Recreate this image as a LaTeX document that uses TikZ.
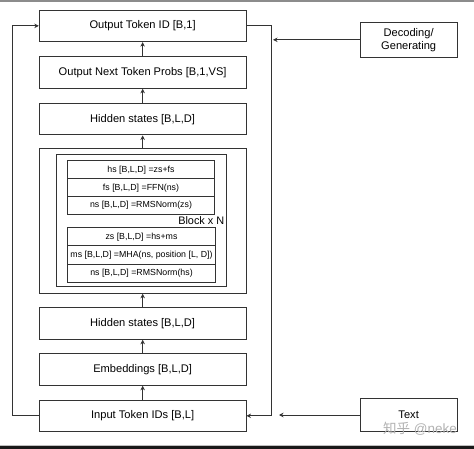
\documentclass[tikz,border=0pt]{standalone}
\usepackage{fontspec}
\setmainfont{Liberation Sans}
\newfontfamily\cjkfont{Noto Sans CJK SC}
\usetikzlibrary{arrows.meta}
\begin{document}
\begin{tikzpicture}[x=1pt,y=-1pt,
  ln/.style={draw=black!80,line width=1pt},
  bigbox/.style={ln,rectangle,minimum width=206.7pt,minimum height=31.6pt,inner sep=0pt,font=\fontsize{11.1}{13}\selectfont},
  rowbox/.style={ln,rectangle,inner sep=0pt,font=\fontsize{8.8}{10}\selectfont},
  sidebox/.style={ln,rectangle,minimum width=97.3pt,inner sep=0pt,align=center,font=\fontsize{11.1}{13}\selectfont},
  arr/.style={ln,-{Stealth[length=4.5pt,width=4.5pt]}}]
\useasboundingbox (0,0) rectangle (474,449);
\fill[white] (0,0) rectangle (474,449);
\fill[black!45] (0,0) rectangle (474,2.5);
\fill[black!90] (0,446) rectangle (474,449);
\draw[black!25,line width=0.8pt] (0,445) -- (474,445);
% main column
\node[bigbox] (outtok) at (142.65,25.85) {Output Token ID [B,1]};
\node[bigbox] (probs) at (142.65,72.5) {Output Next Token Probs [B,1,VS]};
\node[bigbox] (hid1) at (142.65,119.15) {Hidden states [B,L,D]};
\node[ln,rectangle,minimum width=206.7pt,minimum height=145pt,inner sep=0pt] (block) at (142.65,220.8) {};
\node[ln,rectangle,minimum width=170pt,minimum height=131.7pt,inner sep=0pt] (inner) at (141,220.85) {};
\node[bigbox] (hid2) at (142.65,323.5) {Hidden states [B,L,D]};
\node[bigbox] (emb) at (142.65,369.5) {Embeddings [B,L,D]};
\node[bigbox] (inp) at (142.65,415.85) {Input Token IDs [B,L]};
% upper rows
\node[rowbox,minimum width=146.6pt,minimum height=18.3pt] (u1) at (141,169.85) {hs [B,L,D] =zs+fs};
\node[rowbox,minimum width=146.6pt,minimum height=17.7pt] (u2) at (141,187.85) {fs [B,L,D] =FFN(ns)};
\node[rowbox,minimum width=146.6pt,minimum height=18pt] (u3) at (141,205.7) {ns [B,L,D] =RMSNorm(zs)};
\node[anchor=east,inner sep=0pt,font=\fontsize{10.9}{12}\selectfont] (blk) at (224.5,221) {Block x N};
% lower rows
\node[rowbox,minimum width=147.6pt,minimum height=18.3pt] (l1) at (141.5,236.85) {zs [B,L,D] =hs+ms};
\node[rowbox,minimum width=147.6pt,minimum height=18.3pt] (l2) at (141.5,255.15) {ms [B,L,D] =MHA(ns, position [L, D])};
\node[rowbox,minimum width=147.6pt,minimum height=18pt] (l3) at (141.5,273.3) {ns [B,L,D] =RMSNorm(hs)};
% side boxes
\node[sidebox,minimum height=35pt] (dec) at (408.65,39.8) {Decoding/\\Generating};
\node[sidebox,minimum height=33.4pt] (txt) at (408.65,415) {Text};
% vertical arrows
\draw[arr] (inp.north) -- (emb.south);
\draw[arr] (emb.north) -- (hid2.south);
\draw[arr] (hid2.north) -- (block.south);
\draw[arr] (block.north) -- (hid1.south);
\draw[arr] (hid1.north) -- (probs.south);
\draw[arr] (probs.north) -- (outtok.south);
% loops
\coordinate (ll) at (12,0);
\coordinate (rl) at (271,0);
\coordinate (da) at (273,0);
\coordinate (ta) at (279,0);
\draw[arr] (inp.west) -- (inp.west -| ll) -- (outtok.west -| ll) -- (outtok.west);
\draw[arr] (outtok.east) -- (outtok.east -| rl) -- (inp.east -| rl) -- (inp.east);
\draw[arr] (dec.west) -- (dec.west -| da);
\draw[arr] (txt.west) -- (txt.west -| ta);
% watermark
\node[anchor=west,inner sep=0pt,text=black!30,font=\fontsize{13.5}{14}\selectfont] (wm) at (383,429) {{\cjkfont 知乎} @neke};
\end{tikzpicture}
\end{document}
